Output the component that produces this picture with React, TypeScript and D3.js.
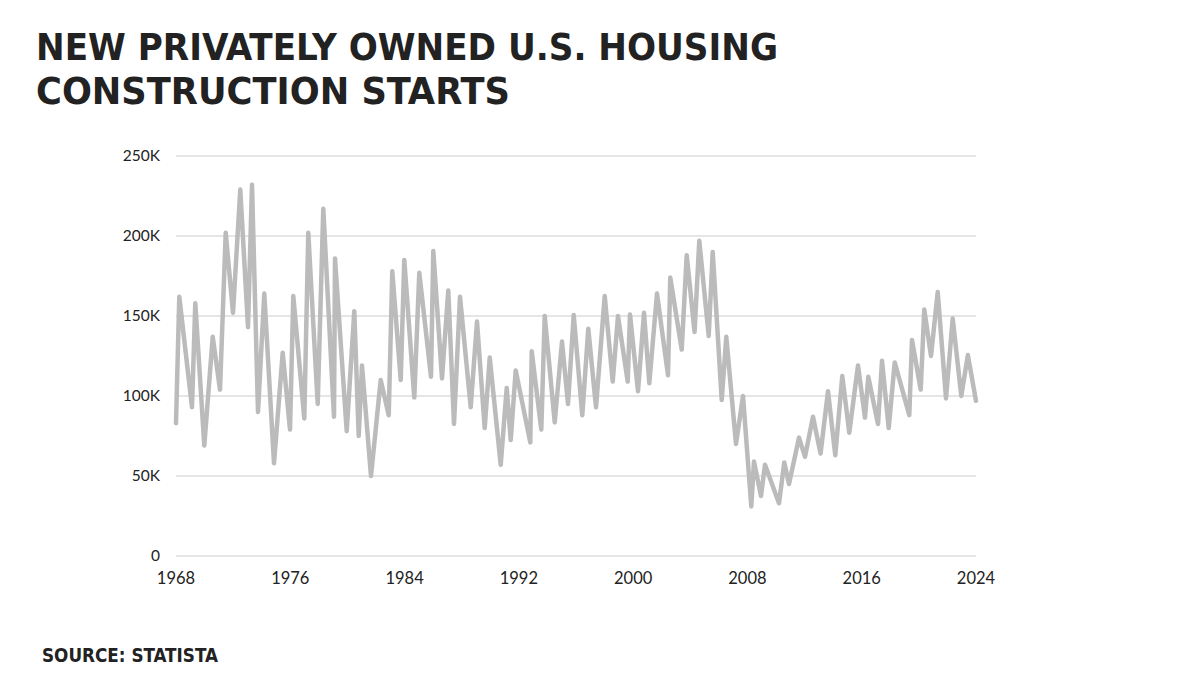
import * as d3 from 'd3';

// Housing starts (thousands)
const years = [
  1968.0, 1968.23, 1969.12, 1969.35, 1969.98, 1970.57, 1971.08, 1971.48, 1971.99, 1972.5,
  1973.04, 1973.32, 1973.74, 1974.18, 1974.86, 1975.47, 1975.98, 1976.21, 1976.98, 1977.26,
  1977.92, 1978.31, 1979.06, 1979.13, 1979.95, 1980.48, 1980.79, 1981.02, 1981.65, 1982.33,
  1982.89, 1983.14, 1983.73, 1983.98, 1984.68, 1985.03, 1985.85, 1986.01, 1986.62, 1987.06,
  1987.46, 1987.88, 1988.63, 1989.07, 1989.61, 1989.96, 1990.73, 1991.15, 1991.43, 1991.78,
  1992.8, 1992.9, 1993.57, 1993.81, 1994.51, 1995.02, 1995.44, 1995.84, 1996.44, 1996.86,
  1997.4, 1998.01, 1998.57, 1998.94, 1999.62, 1999.78, 2000.34, 2000.76, 2001.13, 2001.67,
  2002.44, 2002.6, 2003.4, 2003.75, 2004.3, 2004.63, 2005.29, 2005.57, 2006.2, 2006.52,
  2007.2, 2007.69, 2008.27, 2008.46, 2008.95, 2009.23, 2010.21, 2010.58, 2010.91, 2011.61,
  2012.03, 2012.59, 2013.12, 2013.64, 2014.15, 2014.64, 2015.13, 2015.74, 2016.23, 2016.46,
  2017.14, 2017.42, 2017.89, 2018.31, 2019.33, 2019.52, 2020.13, 2020.38, 2020.85, 2021.32,
  2021.9, 2022.37, 2022.97, 2023.43, 2024.0,
];

const starts = [
  83, 162, 93, 158, 69, 137, 104, 202, 152, 229,
  143, 232, 90, 164, 58, 127, 79, 162.5, 86, 202,
  95, 217, 87, 186, 78, 153, 75, 119, 50, 110,
  88, 178, 110, 185, 99, 177, 112, 190.6, 111, 166,
  82.5, 162, 93, 146.5, 80, 124, 57, 105, 72.5, 116,
  71, 128, 79, 150, 83.5, 134, 95, 150.6, 88, 142,
  93, 162.5, 109, 150, 109, 151, 103, 152, 108, 164,
  113, 174, 129, 188, 140, 197, 137.5, 190, 97.5, 137,
  70, 100, 31, 59, 37.5, 57, 33, 58.5, 45, 74,
  62, 87, 64, 103, 63, 112.5, 77, 119, 86.5, 112,
  82.5, 122, 80, 121, 88, 135, 104, 154, 125, 165,
  98.5, 148.5, 100, 125.6, 97,
];

const yTicks = [0, 50, 100, 150, 200, 250];
const xTicks = [1968, 1976, 1984, 1992, 2000, 2008, 2016, 2024];

const titleLines = ['NEW PRIVATELY OWNED U.S. HOUSING', 'CONSTRUCTION STARTS'];
const source = 'SOURCE: STATISTA';

export default function App() {
  const width = 1200;
  const height = 675;
  const margin = { left: 176, right: 224, top: 156, bottom: 119 };

  const x = d3
    .scaleLinear()
    .domain([1968, 2024])
    .range([margin.left, width - margin.right]);
  const y = d3
    .scaleLinear()
    .domain([0, 250])
    .range([height - margin.bottom, margin.top]);

  const pts = years.map((t, i) => [t, starts[i]] as [number, number]);
  const line = d3
    .line<[number, number]>()
    .x((d) => x(d[0]))
    .y((d) => y(d[1]));

  const labelFont = 'Lato, "Open Sans", sans-serif';
  const titleFont = '"Liberation Sans Narrow", "DejaVu Sans Condensed", sans-serif';

  return (
    <svg
      width={width}
      height={height}
      style={{ position: 'absolute', left: 0, top: 0, background: '#fff' }}
    >
      <rect width={width} height={height} fill="#fff" />

      {titleLines.map((t, i) => (
        <text
          key={t}
          x={36}
          y={60 + i * 44}
          fontFamily={titleFont}
          fontWeight={700}
          fontSize={38}
          fill="#222"
          textLength={i === 0 ? 742 : 474}
          lengthAdjust="spacingAndGlyphs"
        >
          {t}
        </text>
      ))}

      {yTicks.map((v) => (
        <g key={v}>
          <line
            x1={x(1968)}
            x2={x(2024)}
            y1={y(v)}
            y2={y(v)}
            stroke="#dcdcdc"
            strokeWidth={1.5}
          />
          <text
            x={160}
            y={y(v)}
            dy="0.35em"
            textAnchor="end"
            fontFamily={labelFont}
            fontSize={15.5}
            fill="#222"
          >
            {v === 0 ? '0' : `${v}K`}
          </text>
        </g>
      ))}

      {xTicks.map((t) => (
        <text
          key={t}
          x={x(t)}
          y={584}
          textAnchor="middle"
          fontFamily={labelFont}
          fontSize={16.5}
          fill="#222"
        >
          {t}
        </text>
      ))}

      <path
        d={line(pts) ?? ''}
        fill="none"
        stroke="#bbbbbb"
        strokeWidth={4.5}
        strokeLinejoin="round"
        strokeLinecap="round"
      />

      <text
        x={42}
        y={662}
        fontFamily={titleFont}
        fontWeight={700}
        fontSize={19}
        fill="#222"
        textLength={176}
        lengthAdjust="spacingAndGlyphs"
      >
        {source}
      </text>
    </svg>
  );
}
